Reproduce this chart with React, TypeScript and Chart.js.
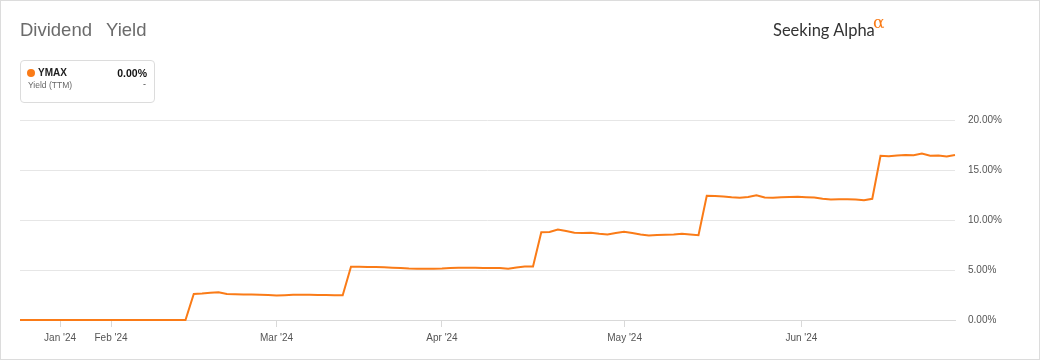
import React, { useEffect, useRef } from "react";
import { Chart, registerables } from "chart.js";

Chart.register(...registerables);

// Trading-day index positions of month tick labels
const monthTickPositions = [4.84, 11, 31, 51, 73.07, 94.44];
const monthTickLabels = ["Jan '24", "Feb '24", "Mar '24", "Apr '24", "May '24", "Jun '24"];

const yTickValues = [0, 5, 10, 15, 20];

// Dividend yield (TTM), % — one value per trading day
const preLaunch = [0, 0, 0, 0, 0, 0, 0, 0, 0, 0, 0, 0, 0, 0, 0, 0, 0, 0, 0, 0, 0];
const afterFirstDiv = [2.6, 2.65, 2.72, 2.77, 2.6, 2.58, 2.56, 2.55, 2.52, 2.5, 2.45, 2.48, 2.52, 2.53, 2.52, 2.5, 2.5, 2.48, 2.47];
const afterSecondDiv = [5.33, 5.32, 5.3, 5.3, 5.27, 5.23, 5.2, 5.15, 5.13, 5.13, 5.13, 5.15, 5.2, 5.22, 5.23, 5.22, 5.2, 5.2, 5.2, 5.12, 5.25, 5.35, 5.35];
const afterThirdDiv = [8.77, 8.8, 9.05, 8.9, 8.72, 8.7, 8.72, 8.62, 8.55, 8.7, 8.82, 8.7, 8.55, 8.45, 8.5, 8.52, 8.55, 8.62, 8.55, 8.48];
const afterFourthDiv = [12.42, 12.4, 12.35, 12.27, 12.22, 12.3, 12.48, 12.25, 12.22, 12.27, 12.3, 12.32, 12.28, 12.25, 12.12, 12.05, 12.08, 12.07, 12.05, 11.97, 12.12];
const afterFifthDiv = [16.42, 16.38, 16.45, 16.5, 16.47, 16.65, 16.42, 16.45, 16.35, 16.5];

const ymaxYield = [
  ...preLaunch,
  ...afterFirstDiv,
  ...afterSecondDiv,
  ...afterThirdDiv,
  ...afterFourthDiv,
  ...afterFifthDiv,
];

const ORANGE = "#fa7b17";
const FONT = "'Liberation Sans', Arial, Helvetica, sans-serif";

export default function App() {
  const canvasRef = useRef<HTMLCanvasElement | null>(null);

  useEffect(() => {
    const canvas = canvasRef.current;
    if (!canvas) return;
    const points = ymaxYield.map((v, i) => ({ x: i, y: v }));
    const chart = new Chart(canvas, {
      type: "line",
      data: {
        datasets: [
          {
            label: "YMAX",
            data: points,
            borderColor: ORANGE,
            backgroundColor: ORANGE,
            borderWidth: 2,
            pointRadius: 0,
            tension: 0,
            fill: false,
            clip: false,
          },
        ],
      },
      options: {
        responsive: false,
        animation: false,
        layout: { padding: { left: 20, top: 120, right: 0, bottom: 0 } },
        plugins: {
          legend: { display: false },
          tooltip: { enabled: false },
          title: { display: false },
        },
        scales: {
          x: {
            type: "linear",
            min: 0,
            max: ymaxYield.length - 1,
            afterBuildTicks: (scale: any) => {
              scale.ticks = monthTickPositions.map((v) => ({ value: v }));
            },
            afterFit: (scale: any) => {
              scale.height = 40;
            },
            grid: {
              drawOnChartArea: false,
              color: "#d9d9d9",
              tickLength: 7,
            },
            border: { color: "#d9d9d9" },
            ticks: {
              autoSkip: false,
              maxRotation: 0,
              padding: 5,
              color: "#555",
              font: { family: FONT, size: 10 },
              callback: (_v: any, index: number) => monthTickLabels[index],
            },
          },
          y: {
            position: "right",
            min: 0,
            max: 20,
            afterBuildTicks: (scale: any) => {
              scale.ticks = yTickValues.map((v) => ({ value: v }));
            },
            afterFit: (scale: any) => {
              scale.width = 85;
            },
            grid: { color: "#e6e6e6", drawTicks: false },
            border: { display: false },
            ticks: {
              padding: 13,
              color: "#555",
              font: { family: FONT, size: 10 },
              callback: (v: any) => Number(v).toFixed(2) + "%",
            },
          },
        },
      },
    });
    return () => chart.destroy();
  }, []);

  return (
    <div
      style={{
        position: "absolute",
        left: 0,
        top: 0,
        width: 1040,
        height: 360,
        background: "#fff",
        fontFamily: FONT,
        overflow: "hidden",
      }}
    >
      <canvas
        ref={canvasRef}
        width={1040}
        height={360}
        style={{ position: "absolute", left: 0, top: 0, width: 1040, height: 360 }}
      />
      <div
        style={{
          position: "absolute",
          left: 0,
          top: 0,
          width: 1040,
          height: 360,
          boxSizing: "border-box",
          border: "1px solid #dcdcdc",
          pointerEvents: "none",
        }}
      />
      <div
        style={{
          position: "absolute",
          left: 20,
          top: 19,
          fontSize: 18.5,
          color: "#6b6b6b",
          lineHeight: "22px",
          whiteSpace: "pre",
        }}
      >
        Dividend<span style={{ marginLeft: 14 }}>Yield</span>
      </div>
      <div
        style={{
          position: "absolute",
          left: 773,
          top: 18,
          fontFamily: "Lato, 'Open Sans', sans-serif",
          fontSize: 16.5,
          color: "#333",
          lineHeight: "24px",
          whiteSpace: "pre",
        }}
      >
        Seeking Alpha
        <span
          style={{
            position: "absolute",
            left: 100,
            top: -8,
            color: ORANGE,
            fontSize: 17,
            fontFamily: "'DejaVu Serif', serif",
          }}
        >
          α
        </span>
      </div>
      <div
        style={{
          position: "absolute",
          left: 20,
          top: 60,
          width: 135,
          height: 43,
          boxSizing: "border-box",
          border: "1px solid #dcdcdc",
          borderRadius: 4,
          background: "#fff",
        }}
      >
        <div
          style={{
            position: "absolute",
            left: 6,
            top: 8,
            width: 8,
            height: 8,
            borderRadius: 4,
            background: ORANGE,
          }}
        />
        <div
          style={{
            position: "absolute",
            left: 17,
            top: 5,
            fontSize: 10,
            fontWeight: 700,
            color: "#222",
            lineHeight: "14px",
          }}
        >
          YMAX
        </div>
        <div
          style={{
            position: "absolute",
            right: 7,
            top: 5,
            fontSize: 10.5,
            fontWeight: 700,
            color: "#111",
            lineHeight: "14px",
          }}
        >
          0.00%
        </div>
        <div
          style={{
            position: "absolute",
            left: 7,
            top: 18,
            fontSize: 8.5,
            color: "#666",
            lineHeight: "12px",
          }}
        >
          Yield (TTM)
        </div>
        <div
          style={{
            position: "absolute",
            right: 8,
            top: 17,
            fontSize: 9,
            color: "#444",
            lineHeight: "12px",
          }}
        >
          -
        </div>
      </div>
    </div>
  );
}
